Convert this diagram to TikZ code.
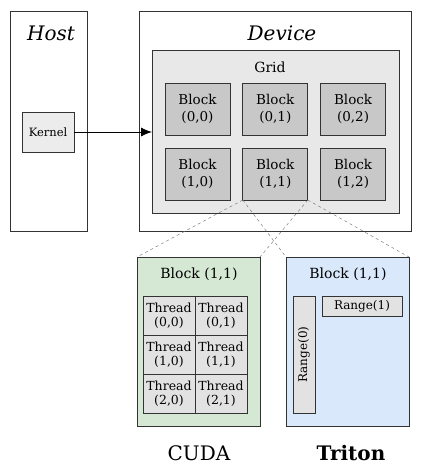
\documentclass[tikz,border=0pt]{standalone}
\usepackage{fontspec}
\setmainfont{DejaVu Serif}
\usetikzlibrary{arrows.meta}
\definecolor{frame}{RGB}{51,51,51}
\definecolor{gridgray}{RGB}{232,232,232}
\definecolor{blockgray}{RGB}{200,200,200}
\definecolor{threadgray}{RGB}{226,226,226}
\definecolor{kernelgray}{RGB}{236,236,236}
\definecolor{cudagreen}{RGB}{213,232,212}
\definecolor{tritonblue}{RGB}{218,232,252}

\begin{document}
\begin{tikzpicture}[x=1pt,y=-1pt,
  box/.style={draw=frame, line width=0.9pt, inner sep=0pt, outer sep=0pt},
  blockbox/.style={box, fill=blockgray, minimum width=65, minimum height=52, align=center, font=\fontsize{13.5}{17}\selectfont},
  threadbox/.style={box, fill=threadgray, minimum width=52, minimum height=39, align=center, font=\fontsize{12.5}{14}\selectfont},
  rangebox/.style={box, fill=threadgray, font=\fontsize{12}{14}\selectfont},
  title/.style={font=\fontsize{20}{24}\selectfont\itshape},
  caption/.style={font=\fontsize{20}{24}\selectfont},
  zoomline/.style={dashed, draw=gray, line width=0.5pt}]
\useasboundingbox (0,0) rectangle (426,472);

% host side
\node[box, fill=white, minimum width=77, minimum height=220] (host) at (48.5,121) {};
\node[title] (hosttitle) at (51,33) {Host};
\node[box, fill=kernelgray, minimum width=52, minimum height=40, font=\fontsize{11.5}{14}\selectfont] (kernel) at (48,132) {Kernel};

% device side
\node[box, fill=white, minimum width=272, minimum height=220] (device) at (275,121) {};
\node[title] (devicetitle) at (282,33) {Device};
\node[box, fill=gridgray, minimum width=247, minimum height=163] (grid) at (275.5,131.5) {};
\node[font=\fontsize{14}{16}\selectfont] (gridtitle) at (270,67) {Grid};
\foreach \r in {0,1}
  \foreach \c in {0,1,2}
    \node[blockbox] (b\r\c) at (197.5+77.8*\c,109+65*\r) {Block\\(\r,\c)};

\draw[-{Latex[length=11pt,width=9pt]}, line width=0.9pt, draw=black] (kernel.east) -- (kernel.east -| grid.west);

% zoomed block
\node[box, fill=cudagreen, minimum width=123, minimum height=169] (cuda) at (198.5,341.5) {};
\node[box, fill=tritonblue, minimum width=123, minimum height=169] (triton) at (347.5,341.5) {};
\draw[zoomline] (b11.south west) -- (cuda.north west);
\draw[zoomline] (b11.south east) -- (cuda.north east);
\draw[zoomline] (b11.south west) -- (triton.north west);
\draw[zoomline] (b11.south east) -- (triton.north east);

\node[font=\fontsize{14}{16}\selectfont] (cudatitle) at (199,274) {Block (1,1)};
\node[font=\fontsize{14}{16}\selectfont] (tritontitle) at (348,274) {Block (1,1)};

\foreach \r in {0,1,2}
  \foreach \c in {0,1}
    \node[threadbox] (t\r\c) at (169+52*\c,315.5+39*\r) {Thread\\(\r,\c)};

\node[rangebox, minimum width=117, minimum height=22, rotate=90] (range0) at (304,354.5) {Range(0)};
\node[rangebox, minimum width=80, minimum height=20] (range1) at (362,306) {Range(1)};

\node[caption] (cudalabel) at (199,453) {CUDA};
\node[font=\fontsize{20}{24}\selectfont\bfseries] (tritonlabel) at (351,453) {Triton};
\end{tikzpicture}
\end{document}
